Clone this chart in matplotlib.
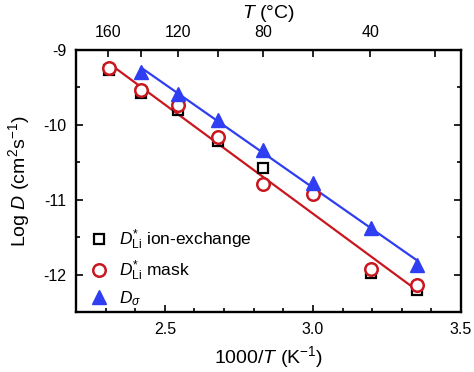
import numpy as np
import matplotlib.pyplot as plt
from matplotlib.ticker import MultipleLocator, FixedLocator

plt.rcParams["font.family"] = ["Liberation Sans", "DejaVu Sans"]
plt.rcParams["mathtext.fontset"] = "custom"
plt.rcParams["mathtext.rm"] = "Liberation Sans"
plt.rcParams["mathtext.it"] = "Liberation Sans:italic"
plt.rcParams["font.size"] = 11

# 1000/T (K^-1) positions
x_sq = [2.31, 2.42, 2.545, 2.68, 2.83, 3.195, 3.352]
y_sq = [-9.27, -9.57, -9.80, -10.22, -10.57, -11.98, -12.20]

x_ci = [2.31, 2.42, 2.545, 2.68, 2.83, 3.00, 3.195, 3.352]
y_ci = [-9.24, -9.53, -9.74, -10.16, -10.79, -10.93, -11.93, -12.14]

x_tr = [2.42, 2.545, 2.68, 2.83, 3.00, 3.195, 3.352]
y_tr = [-9.29, -9.59, -9.93, -10.33, -10.78, -11.38, -11.87]

top_major = [160, 120, 80, 40]
top_minor = [140, 100, 60, 20]

red = "#c8171e"
blue = "#2e3ef0"

fig = plt.figure(figsize=(4.74, 3.72), dpi=100)
ax = fig.add_axes([76 / 474, 1 - 312 / 372, 385 / 474, 262 / 372])

# linear fits
xr = np.array(x_sq + x_ci)
yr = np.array(y_sq + y_ci)
pr = np.polyfit(xr, yr, 1)
xs = np.array([min(xr), max(xr)])
ax.plot(xs, np.polyval(pr, xs), color=red, lw=1.6, zorder=1)

pb = np.polyfit(x_tr, y_tr, 1)
xs = np.array([min(x_tr), max(x_tr)])
ax.plot(xs, np.polyval(pb, xs), color=blue, lw=1.6, zorder=1)

ax.plot(x_sq, y_sq, "s", ms=7, mfc="none", mec="black", mew=1.6,
        ls="none", zorder=2, label=r"$D^{*}_{\mathrm{Li}}$ ion-exchange")
ax.plot(x_ci, y_ci, "o", ms=9, mfc="white", mec=red, mew=1.8,
        ls="none", zorder=3, label=r"$D^{*}_{\mathrm{Li}}$ mask")
ax.plot(x_tr, y_tr, "^", ms=10, color=blue, ls="none", zorder=4,
        label=r"$D_{\sigma}$")

ax.set_xlim(2.2, 3.5)
ax.set_ylim(-12.5, -9)
ax.xaxis.set_major_locator(FixedLocator([2.5, 3.0, 3.5]))
ax.xaxis.set_minor_locator(MultipleLocator(0.1))
ax.yaxis.set_major_locator(MultipleLocator(1))
ax.yaxis.set_minor_locator(MultipleLocator(0.5))
ax.xaxis.set_major_formatter(lambda v, p: f"{v:.1f}")
ax.yaxis.set_major_formatter(lambda v, p: f"{v:.0f}")
ax.tick_params(which="both", direction="in", right=True, width=1.2)
ax.tick_params(which="major", length=5, labelsize=11.5, pad=7)
ax.tick_params(which="minor", length=3)
for s in ax.spines.values():
    s.set_linewidth(1.7)

ax.set_xlabel(r"1000/$T$ (K$^{-1}$)", fontsize=14, labelpad=5)
ax.set_ylabel(r"Log $D$ (cm$^2$s$^{-1}$)", fontsize=14, labelpad=8)

sec = ax.secondary_xaxis("top", functions=(lambda x: 1000 / x - 273.15,
                                          lambda t: 1000 / (t + 273.15)))
sec.xaxis.set_major_locator(FixedLocator(top_major))
sec.xaxis.set_minor_locator(FixedLocator(top_minor))
sec.tick_params(which="both", direction="in", width=1.2)
sec.tick_params(which="major", length=5, labelsize=11.5, pad=7)
sec.tick_params(which="minor", length=5)
sec.set_xlabel(r"$T$ ($\degree$C)", fontsize=14, labelpad=5)

ax.legend(loc="lower left", frameon=False, fontsize=12.5, handletextpad=0.6,
          borderaxespad=0.3, labelspacing=0.35, handlelength=1.2,
          bbox_to_anchor=(0.0, -0.03))

fig.savefig("out.png", dpi=100)
